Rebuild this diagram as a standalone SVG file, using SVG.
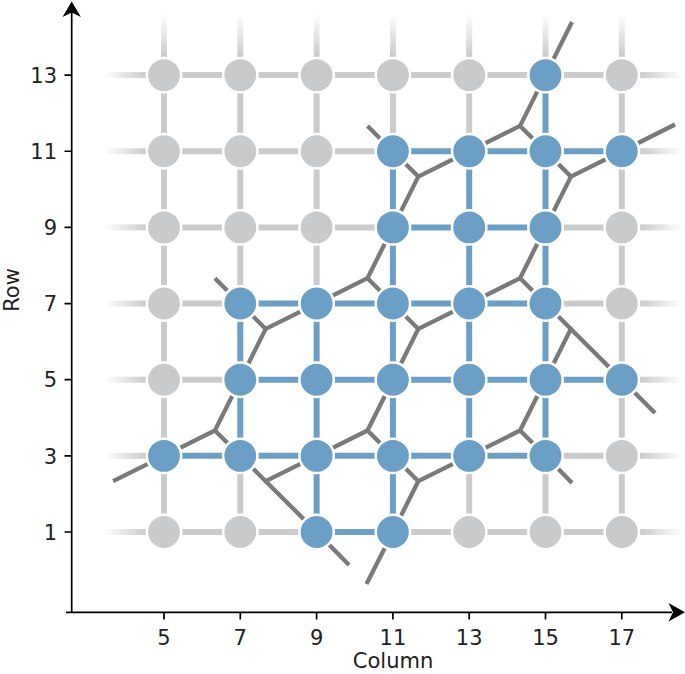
<svg xmlns="http://www.w3.org/2000/svg" width="685" height="674" viewBox="0 0 685 674">
<style>
.gl{fill:none;stroke:#cbcbcb;stroke-width:6}
.bl{fill:none;stroke:#6c9fc5;stroke-width:6}
.dk{fill:none;stroke:#7a7a7a;stroke-width:4.3;stroke-linejoin:round}
.jn{fill:#7a7a7a}
.g{fill:#c9cacc;stroke:#fff;stroke-width:2.5}
.b{fill:#6c9fc5;stroke:#fff;stroke-width:2.5}
.ax{fill:none;stroke:#000;stroke-width:1.7}
.t{font-family:"DejaVu Sans",sans-serif;font-size:21px;fill:#222}
</style>
<defs>
<linearGradient id="fadeL" x1="0" y1="0" x2="1" y2="0"><stop offset="0" stop-color="#cbcbcb" stop-opacity="0"/><stop offset="0.7" stop-color="#cbcbcb" stop-opacity="1"/></linearGradient>
<linearGradient id="fadeR" x1="1" y1="0" x2="0" y2="0"><stop offset="0" stop-color="#cbcbcb" stop-opacity="0"/><stop offset="0.7" stop-color="#cbcbcb" stop-opacity="1"/></linearGradient>
<linearGradient id="fadeT" x1="0" y1="0" x2="0" y2="1"><stop offset="0" stop-color="#cbcbcb" stop-opacity="0"/><stop offset="0.7" stop-color="#cbcbcb" stop-opacity="1"/></linearGradient>
</defs>
<rect width="685" height="674" fill="#fff"/>
<g id="stubs">
<rect x="104" y="72.1" width="60" height="6" fill="url(#fadeL)"/>
<rect x="104" y="148.25" width="60" height="6" fill="url(#fadeL)"/>
<rect x="104" y="224.4" width="60" height="6" fill="url(#fadeL)"/>
<rect x="104" y="300.55" width="60" height="6" fill="url(#fadeL)"/>
<rect x="104" y="376.7" width="60" height="6" fill="url(#fadeL)"/>
<rect x="104" y="452.85" width="60" height="6" fill="url(#fadeL)"/>
<rect x="104" y="529" width="60" height="6" fill="url(#fadeL)"/>
<rect x="621.8" y="72.1" width="61" height="6" fill="url(#fadeR)"/>
<rect x="621.8" y="148.25" width="61" height="6" fill="url(#fadeR)"/>
<rect x="621.8" y="224.4" width="61" height="6" fill="url(#fadeR)"/>
<rect x="621.8" y="300.55" width="61" height="6" fill="url(#fadeR)"/>
<rect x="621.8" y="376.7" width="61" height="6" fill="url(#fadeR)"/>
<rect x="621.8" y="452.85" width="61" height="6" fill="url(#fadeR)"/>
<rect x="621.8" y="529" width="61" height="6" fill="url(#fadeR)"/>
<rect x="161" y="14" width="6" height="61.1" fill="url(#fadeT)"/>
<rect x="237.3" y="14" width="6" height="61.1" fill="url(#fadeT)"/>
<rect x="313.6" y="14" width="6" height="61.1" fill="url(#fadeT)"/>
<rect x="389.9" y="14" width="6" height="61.1" fill="url(#fadeT)"/>
<rect x="466.2" y="14" width="6" height="61.1" fill="url(#fadeT)"/>
<rect x="542.5" y="14" width="6" height="61.1" fill="url(#fadeT)"/>
<rect x="618.8" y="14" width="6" height="61.1" fill="url(#fadeT)"/>
</g>
<g id="connectors">
<path class="gl" d="M164 75.1H621.8M164 151.25H392.9M164 227.4H392.9M545.5 227.4H621.8M164 303.55H240.3M545.5 303.55H621.8M164 379.7H240.3M545.5 455.85H621.8M164 532H316.6M392.9 532H621.8M164 75.1V532M240.3 75.1V303.55M240.3 455.85V532M316.6 75.1V303.55M392.9 75.1V151.25M469.2 75.1V151.25M469.2 455.85V532M545.5 455.85V532M621.8 75.1V532"/>
<path class="bl" d="M392.9 151.25H621.8M392.9 227.4H545.5M240.3 303.55H545.5M240.3 379.7H621.8M164 455.85H545.5M316.6 532H392.9M240.3 303.55V455.85M316.6 303.55V532M392.9 151.25V532M469.2 151.25V455.85M545.5 75.1V455.85"/>
<path class="dk" d="M113.1 481.2L164 455.85L214.9 430.5M214.9 430.5L240.3 379.7L265.7 328.9M265.7 328.9L240.3 303.55L214.9 278.2M214.9 430.5L240.3 455.85L265.7 481.2M265.7 481.2L316.6 455.85L367.5 430.5M265.7 481.2L316.6 532L349 565M265.7 328.9L316.6 303.55L367.5 278.2M367.5 430.5L392.9 379.7L418.3 328.9M367.5 430.5L392.9 455.85L418.3 481.2M418.3 481.2L469.2 455.85L520.1 430.5M418.3 481.2L392.9 532L366.5 584M520.1 430.5L545.5 379.7L570.9 328.9M520.1 430.5L545.5 455.85L572 483M570.9 328.9L545.5 303.55L520.1 278.2M570.9 328.9L621.8 379.7L655 413M367.5 278.2L392.9 227.4L418.3 176.6M367.5 278.2L392.9 303.55L418.3 328.9M418.3 328.9L469.2 303.55L520.1 278.2M520.1 278.2L545.5 227.4L570.9 176.6M418.3 176.6L469.2 151.25L520.1 125.9M418.3 176.6L392.9 151.25L367.5 125.9M520.1 125.9L545.5 75.1L572 22M520.1 125.9L545.5 151.25L570.9 176.6M570.9 176.6L621.8 151.25L675 124.5"/>
<g class="jn">
<circle cx="214.9" cy="430.5" r="2.1"/><circle cx="265.7" cy="481.2" r="2.1"/><circle cx="265.7" cy="328.9" r="2.1"/><circle cx="367.5" cy="430.5" r="2.1"/><circle cx="418.3" cy="481.2" r="2.1"/><circle cx="520.1" cy="430.5" r="2.1"/><circle cx="570.9" cy="328.9" r="2.1"/><circle cx="367.5" cy="278.2" r="2.1"/><circle cx="418.3" cy="328.9" r="2.1"/><circle cx="520.1" cy="278.2" r="2.1"/><circle cx="418.3" cy="176.6" r="2.1"/><circle cx="520.1" cy="125.9" r="2.1"/><circle cx="570.9" cy="176.6" r="2.1"/>
</g>
</g>
<g id="nodes">
<g id="n5_13"><circle class="g" cx="164" cy="75.1" r="17.2"/></g>
<g id="n7_13"><circle class="g" cx="240.3" cy="75.1" r="17.2"/></g>
<g id="n9_13"><circle class="g" cx="316.6" cy="75.1" r="17.2"/></g>
<g id="n11_13"><circle class="g" cx="392.9" cy="75.1" r="17.2"/></g>
<g id="n13_13"><circle class="g" cx="469.2" cy="75.1" r="17.2"/></g>
<g id="n15_13"><circle class="b" cx="545.5" cy="75.1" r="17.2"/></g>
<g id="n17_13"><circle class="g" cx="621.8" cy="75.1" r="17.2"/></g>
<g id="n5_11"><circle class="g" cx="164" cy="151.25" r="17.2"/></g>
<g id="n7_11"><circle class="g" cx="240.3" cy="151.25" r="17.2"/></g>
<g id="n9_11"><circle class="g" cx="316.6" cy="151.25" r="17.2"/></g>
<g id="n11_11"><circle class="b" cx="392.9" cy="151.25" r="17.2"/></g>
<g id="n13_11"><circle class="b" cx="469.2" cy="151.25" r="17.2"/></g>
<g id="n15_11"><circle class="b" cx="545.5" cy="151.25" r="17.2"/></g>
<g id="n17_11"><circle class="b" cx="621.8" cy="151.25" r="17.2"/></g>
<g id="n5_9"><circle class="g" cx="164" cy="227.4" r="17.2"/></g>
<g id="n7_9"><circle class="g" cx="240.3" cy="227.4" r="17.2"/></g>
<g id="n9_9"><circle class="g" cx="316.6" cy="227.4" r="17.2"/></g>
<g id="n11_9"><circle class="b" cx="392.9" cy="227.4" r="17.2"/></g>
<g id="n13_9"><circle class="b" cx="469.2" cy="227.4" r="17.2"/></g>
<g id="n15_9"><circle class="b" cx="545.5" cy="227.4" r="17.2"/></g>
<g id="n17_9"><circle class="g" cx="621.8" cy="227.4" r="17.2"/></g>
<g id="n5_7"><circle class="g" cx="164" cy="303.55" r="17.2"/></g>
<g id="n7_7"><circle class="b" cx="240.3" cy="303.55" r="17.2"/></g>
<g id="n9_7"><circle class="b" cx="316.6" cy="303.55" r="17.2"/></g>
<g id="n11_7"><circle class="b" cx="392.9" cy="303.55" r="17.2"/></g>
<g id="n13_7"><circle class="b" cx="469.2" cy="303.55" r="17.2"/></g>
<g id="n15_7"><circle class="b" cx="545.5" cy="303.55" r="17.2"/></g>
<g id="n17_7"><circle class="g" cx="621.8" cy="303.55" r="17.2"/></g>
<g id="n5_5"><circle class="g" cx="164" cy="379.7" r="17.2"/></g>
<g id="n7_5"><circle class="b" cx="240.3" cy="379.7" r="17.2"/></g>
<g id="n9_5"><circle class="b" cx="316.6" cy="379.7" r="17.2"/></g>
<g id="n11_5"><circle class="b" cx="392.9" cy="379.7" r="17.2"/></g>
<g id="n13_5"><circle class="b" cx="469.2" cy="379.7" r="17.2"/></g>
<g id="n15_5"><circle class="b" cx="545.5" cy="379.7" r="17.2"/></g>
<g id="n17_5"><circle class="b" cx="621.8" cy="379.7" r="17.2"/></g>
<g id="n5_3"><circle class="b" cx="164" cy="455.85" r="17.2"/></g>
<g id="n7_3"><circle class="b" cx="240.3" cy="455.85" r="17.2"/></g>
<g id="n9_3"><circle class="b" cx="316.6" cy="455.85" r="17.2"/></g>
<g id="n11_3"><circle class="b" cx="392.9" cy="455.85" r="17.2"/></g>
<g id="n13_3"><circle class="b" cx="469.2" cy="455.85" r="17.2"/></g>
<g id="n15_3"><circle class="b" cx="545.5" cy="455.85" r="17.2"/></g>
<g id="n17_3"><circle class="g" cx="621.8" cy="455.85" r="17.2"/></g>
<g id="n5_1"><circle class="g" cx="164" cy="532" r="17.2"/></g>
<g id="n7_1"><circle class="g" cx="240.3" cy="532" r="17.2"/></g>
<g id="n9_1"><circle class="b" cx="316.6" cy="532" r="17.2"/></g>
<g id="n11_1"><circle class="b" cx="392.9" cy="532" r="17.2"/></g>
<g id="n13_1"><circle class="g" cx="469.2" cy="532" r="17.2"/></g>
<g id="n15_1"><circle class="g" cx="545.5" cy="532" r="17.2"/></g>
<g id="n17_1"><circle class="g" cx="621.8" cy="532" r="17.2"/></g>
</g>
<g id="axes">
<path class="ax" d="M71.7 613.1V12M66 612.3H672M64.5 75.1H71.7M64.5 151.25H71.7M64.5 227.4H71.7M64.5 303.55H71.7M64.5 379.7H71.7M64.5 455.85H71.7M64.5 532H71.7M164 612.3V619.5M240.3 612.3V619.5M316.6 612.3V619.5M392.9 612.3V619.5M469.2 612.3V619.5M545.5 612.3V619.5M621.8 612.3V619.5"/>
<path d="M71.7 1.5L80.9 17L71.7 12.5L62.5 17Z" fill="#000"/>
<path d="M685 612.3L668.5 603L673 612.3L668.5 621.6Z" fill="#000"/>
</g>
<g id="labels" class="t">
<text x="57" y="82.8" text-anchor="end">13</text>
<text x="57" y="158.9" text-anchor="end">11</text>
<text x="57" y="235.1" text-anchor="end">9</text>
<text x="57" y="311.2" text-anchor="end">7</text>
<text x="57" y="387.4" text-anchor="end">5</text>
<text x="57" y="463.5" text-anchor="end">3</text>
<text x="57" y="539.7" text-anchor="end">1</text>
<text x="164" y="645" text-anchor="middle">5</text>
<text x="240.3" y="645" text-anchor="middle">7</text>
<text x="316.6" y="645" text-anchor="middle">9</text>
<text x="392.9" y="645" text-anchor="middle">11</text>
<text x="469.2" y="645" text-anchor="middle">13</text>
<text x="545.5" y="645" text-anchor="middle">15</text>
<text x="621.8" y="645" text-anchor="middle">17</text>
<text x="393" y="668" text-anchor="middle">Column</text>
<text transform="translate(19,290) rotate(-90)" text-anchor="middle">Row</text>
</g>
</svg>
